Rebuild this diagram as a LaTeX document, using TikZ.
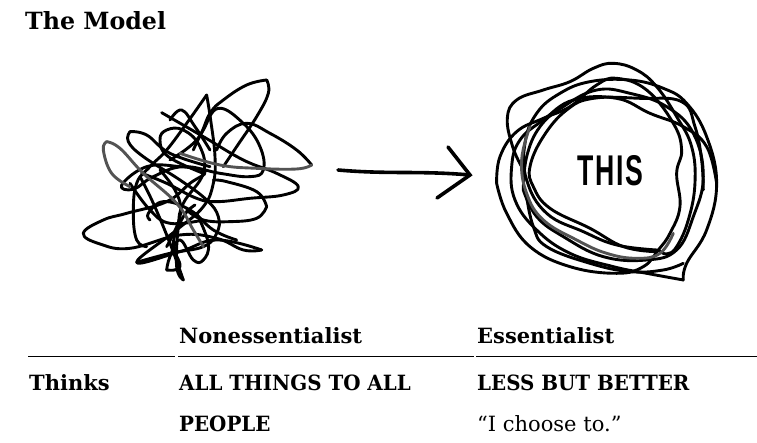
\documentclass[tikz,border=0pt]{standalone}
\usepackage{fontspec}
\setmainfont{DejaVu Serif}
\newfontfamily\labelfont[LetterSpace=6]{Liberation Sans}
\tikzset{
  scribble/.style={line width=2.9pt,line join=round,line cap=round,smooth,tension=0.7},
  greystroke/.style={scribble,gray!65!black},
  tablehead/.style={anchor=base west,inner sep=0pt,font=\fontsize{21}{21}\selectfont\bfseries},
  tablecaps/.style={tablehead,xscale=0.945},
  tablebody/.style={anchor=base west,inner sep=0pt,font=\fontsize{21}{21}\selectfont},
  tablerule/.style={line width=1pt}
}
\begin{document}
\begin{tikzpicture}[x=1pt,y=-1pt]
    \useasboundingbox (0,0) rectangle (757,443);
    \node[tablehead,font=\fontsize{23.7}{23.7}\selectfont\bfseries] (title) at (25,30) {The Model};
    % tangle
    \begin{scope}[shift={(70,70)},x=0.3333pt,y=-0.3333pt]
        \draw[scribble] plot coordinates {(575,540) (520,540) (440,505) (330,495) (180,535) (90,522) (40,490) (100,450) (170,430) (290,395) (360,340) (405,305) (330,290) (230,290) (155,345) (190,358) (250,320) (340,290) (450,310) (540,320) (580,300) (570,230) (520,160) (445,115) (400,180) (370,240)};
        \draw[scribble] plot coordinates {(275,128) (400,200) (520,270) (620,310) (685,350) (640,375) (540,385) (440,395) (380,385) (290,340) (215,310)};
        \draw[scribble] plot coordinates {(410,75) (350,160) (290,240) (240,290) (200,340) (190,430) (200,510) (230,530)};
        \draw[scribble] plot coordinates {(410,75) (422,150) (435,260) (430,340) (400,410) (320,480) (200,577) (330,545) (440,510) (575,540)};
        \draw[scribble] plot coordinates {(340,630) (300,520) (250,400) (210,320)};
        \draw[scribble] plot coordinates {(340,630) (320,590) (325,470) (340,400) (400,310) (390,230) (340,180) (290,180) (270,210) (295,260) (400,310)};
        \draw[scribble] plot coordinates {(290,600) (330,590) (310,520) (340,440) (375,405)};
        \draw[scribble] plot coordinates {(290,600) (300,560) (330,510) (370,570) (400,570) (415,520) (380,430)};
        \draw[scribble] plot coordinates {(300,150) (335,120) (375,170) (420,240)};
        \draw[scribble] plot coordinates {(180,185) (175,215) (220,260) (330,330) (410,390) (445,440) (440,490) (400,530) (300,550) (200,577)};
        \draw[scribble] plot coordinates {(590,30) (530,45) (460,90) (420,130) (380,210) (300,270)};
        \draw[scribble] plot coordinates {(590,30) (595,70) (560,140) (500,230) (460,290)};
        \draw[scribble] plot coordinates {(590,410) (560,365) (470,335) (430,330)};
        \draw[scribble] plot coordinates {(590,410) (560,445) (480,455) (400,450) (350,420)};
        \draw[scribble] plot coordinates {(180,185) (230,195) (300,250) (420,290)};
        \draw[scribble] plot coordinates {(180,340) (240,420) (300,460) (400,450)};
        \draw[scribble] plot coordinates {(240,450) (235,430) (280,395) (360,420) (430,480) (500,510)};
        \draw[scribble] plot coordinates {(270,300) (320,370) (330,440) (290,530)};
        \draw[scribble] plot coordinates {(725,285) (680,240) (600,190) (530,160) (470,190) (440,240)};
        \draw[greystroke] plot coordinates {(725,285) (680,297) (560,295) (450,285) (330,250)};
        \draw[greystroke] plot coordinates {(110,215) (100,240) (125,310) (180,350)};
        \draw[greystroke] plot coordinates {(110,215) (150,235) (220,310) (320,400) (370,480) (400,530)};
    \end{scope}
    % arrow
    \coordinate (arrowtail) at (338,170);
    \coordinate (arrowtip) at (470,175);
    \coordinate (barbup) at (448,147);
    \coordinate (barbdown) at (437,198);
    \draw[line width=3.6pt,line cap=round] (arrowtail) to[out=-5,in=175] (arrowtip);
    \draw[line width=3.6pt,line cap=round,line join=miter] (barbup) -- (arrowtip) -- (barbdown);
    % circle
    \begin{scope}[shift={(330,50)},x=0.3333pt,y=-0.3333pt]
        \draw[scribble] plot coordinates {(575,350) (548,290) (532,205) (560,150) (640,120) (720,95) (790,55) (850,40) (920,60) (980,110) (1040,200) (1085,290) (1095,400) (1075,510) (1040,590) (1010,612) (985,600)};
        \draw[scribble] plot coordinates {(1060,690) (1070,640) (1130,540) (1160,400) (1130,260) (1070,160) (1000,115) (900,90) (780,95) (690,130) (620,190) (585,280) (590,390) (650,490) (760,545) (860,585) (980,600)};
        \draw[scribble] plot coordinates {(1060,690) (950,670) (850,650) (720,610) (620,540) (555,450) (545,350) (570,270) (640,210) (730,150) (860,145) (960,190) (1060,230) (1130,290) (1160,400)};
        \draw[scribble] plot coordinates {(500,400) (510,320) (560,245) (640,205) (720,170) (800,105) (860,85) (950,120) (1030,220) (1055,300) (1040,370) (1050,470) (1020,550) (985,600) (940,650) (860,670) (720,650) (600,590) (530,490) (500,400)};
        \draw[scribble] plot coordinates {(975,605) (880,590) (780,535) (660,475) (610,410) (600,350) (640,260) (710,180) (790,145) (930,145) (1055,155) (1095,230) (1115,330) (1120,420)};
        \draw[scribble] plot coordinates {(1060,640) (1000,660) (900,665) (780,640) (650,590) (610,530) (590,440)};
        \draw[scribble] plot coordinates {(580,420) (620,500) (700,560) (820,620) (950,630) (1040,600) (1090,500) (1120,380) (1090,250) (1010,170) (900,130) (800,120) (700,170) (630,230) (590,320) (580,420)};
        \draw[greystroke] plot coordinates {(600,230) (575,330) (590,430) (640,510) (740,570) (830,610) (920,625) (990,610) (1030,550)};
    \end{scope}
    \node[inner sep=0pt,font=\labelfont\bfseries\fontsize{43}{43}\selectfont,xscale=0.62] (this) at (610.5,171) {THIS};
    % table
    \node[tablehead] (nonhead) at (179,343) {Nonessentialist};
    \node[tablehead] (esshead) at (477,343) {Essentialist};
    \coordinate (ruleA) at (28,356);
    \coordinate (ruleB) at (175,356);
    \coordinate (ruleC) at (178,356);
    \coordinate (ruleD) at (474,356);
    \coordinate (ruleE) at (476,356);
    \coordinate (ruleF) at (757,356);
    \draw[tablerule] (ruleA) -- (ruleB);
    \draw[tablerule] (ruleC) -- (ruleD);
    \draw[tablerule] (ruleE) -- (ruleF);
    \node[tablehead] (thinks) at (29,390) {Thinks};
    \node[tablecaps] (nonlineA) at (179,390) {ALL THINGS TO ALL};
    \node[tablecaps] (nonlineB) at (179,431) {PEOPLE};
    \node[tablecaps] (esslineA) at (477,390) {LESS BUT BETTER};
    \node[tablebody] (esslineB) at (477,431) {“I choose to.”};
\end{tikzpicture}
\end{document}
